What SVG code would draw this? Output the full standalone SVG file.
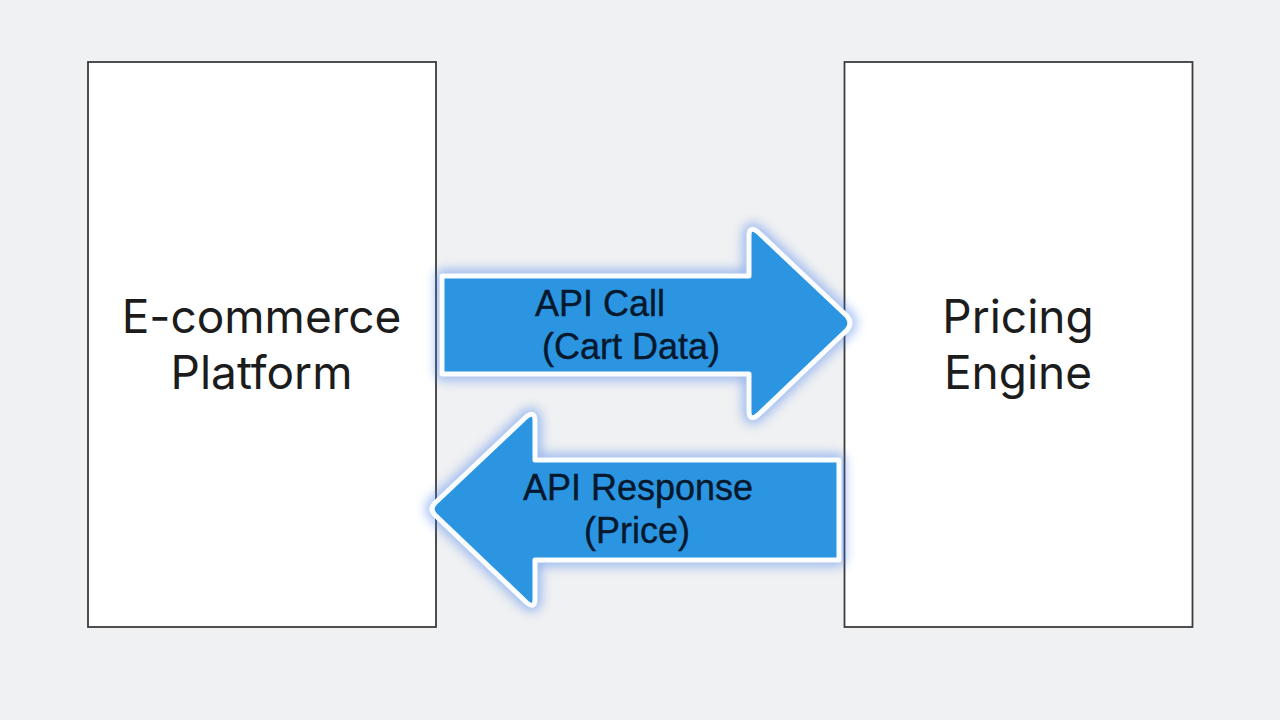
<svg xmlns="http://www.w3.org/2000/svg" width="1280" height="720" viewBox="0 0 1280 720">
  <defs>
    <style>
      .box { fill: #ffffff; stroke: #3c3c3c; stroke-width: 1.8; }
      .glow { fill: none; stroke: #3a78ea; stroke-width: 12; stroke-linejoin: round; opacity: 0.5; filter: url(#blur); }
      .arrow { fill: #2b95e2; stroke: #fbfdff; stroke-width: 5; stroke-linejoin: round; }
      .big { font-family: "Inter", "Liberation Sans", sans-serif; font-size: 46px; fill: #1c1c1c; text-anchor: middle; }
      .lab { font-family: "Liberation Sans", Arial, sans-serif; font-size: 36px; fill: #06182c; stroke: #06182c; stroke-width: 0.4; text-anchor: middle; }
    </style>
    <filter id="blur" x="-10%" y="-10%" width="120%" height="120%"><feGaussianBlur stdDeviation="6"/></filter>
  </defs>
  <rect width="1280" height="720" fill="#f0f1f2"/>
  <g id="ecommerce-platform">
    <rect class="box" x="88" y="62" width="348" height="565"/>
    <text class="big" x="261.500" y="333">E-commerce</text>
    <text class="big" x="261.500" y="389">Platform</text>
  </g>
  <g id="pricing-engine">
    <rect class="box" x="844.500" y="62" width="348" height="565"/>
    <text class="big" x="1018" y="333">Pricing</text>
    <text class="big" x="1018" y="389">Engine</text>
  </g>
  <g id="connectors">
    <g id="api-call">
      <path class="glow" d="M442 276H749V236Q749 225 758 232L847 316Q853 323 847 330L758 415Q749 422 749 411V374H442Z"/>
      <path class="arrow" d="M442 276H749V236Q749 225 758 232L847 316Q853 323 847 330L758 415Q749 422 749 411V374H442Z"/>
      <text class="lab" x="600" y="316">API Call</text>
      <text class="lab" x="631" y="359">(Cart Data)</text>
    </g>
    <g id="api-response">
      <path class="glow" d="M839 460H535V421Q535 410 526 417L435 503Q429 509 435 515L526 602Q535 610 535 599V560H839Z"/>
      <path class="arrow" d="M839 460H535V421Q535 410 526 417L435 503Q429 509 435 515L526 602Q535 610 535 599V560H839Z"/>
      <text class="lab" x="638" y="500">API Response</text>
      <text class="lab" x="637" y="543">(Price)</text>
    </g>
  </g>
</svg>
